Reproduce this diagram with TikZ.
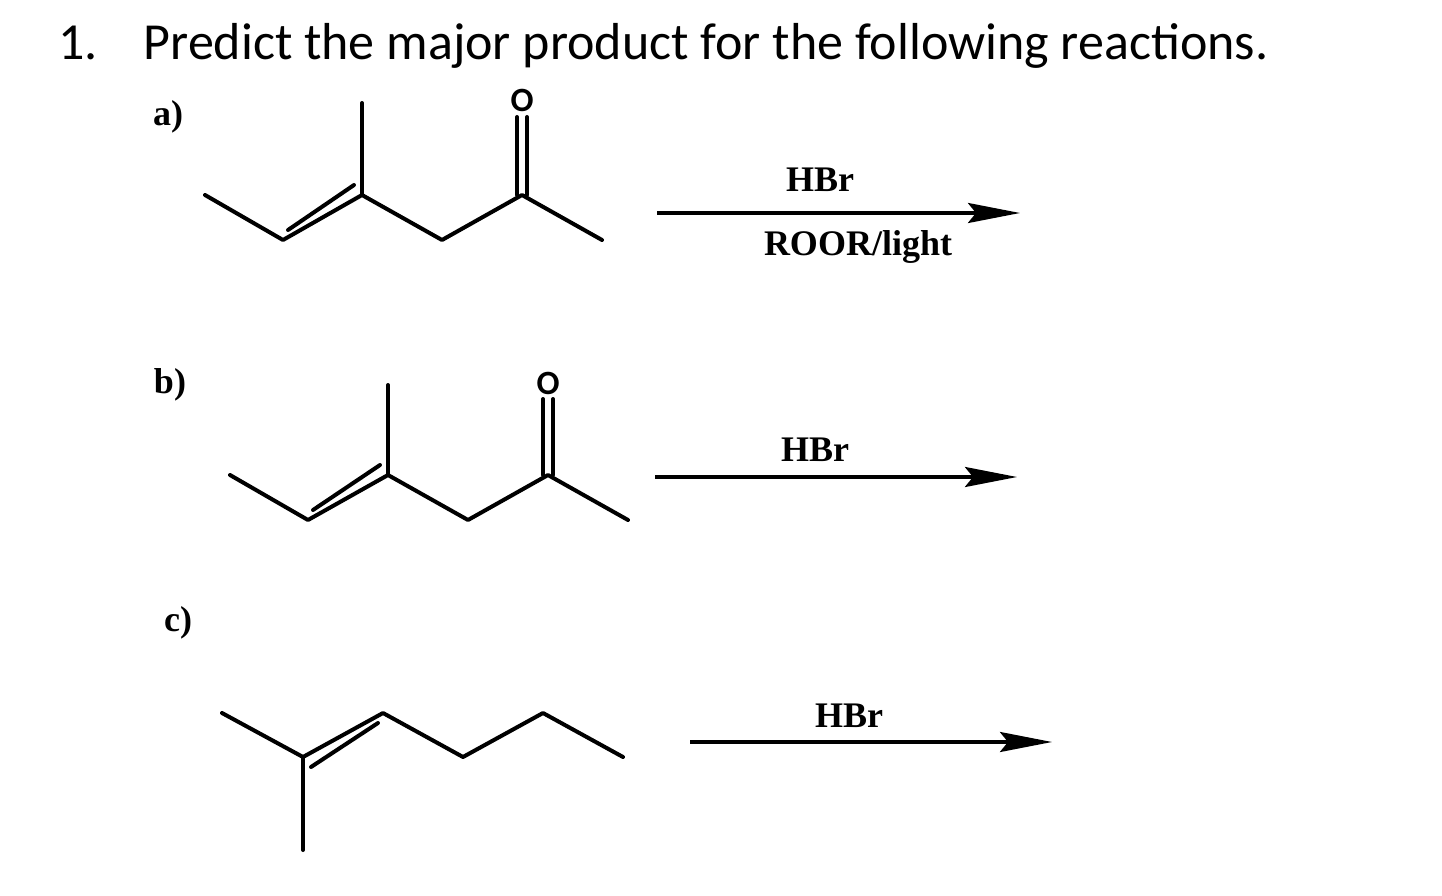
\documentclass[tikz,border=0pt]{standalone}
\usepackage{fontspec}
\setmainfont{Liberation Serif}
\newfontfamily\titlefont{Carlito}
\usetikzlibrary{arrows.meta}
\begin{document}
\begin{tikzpicture}[x=1pt,y=-1pt,
  bond/.style={line width=4pt,line cap=round,line join=round},
  rxn/.style={line width=3.5pt,-{Stealth[length=52pt,width=20pt,inset=8pt]}},
  lab/.style={font=\bfseries\fontsize{36}{40}\selectfont,inner sep=0},
  oxy/.style={font=\titlefont\bfseries\fontsize{34}{36}\selectfont,inner sep=0}]
\useasboundingbox (0,0) rectangle (1442,896);
\node[anchor=base west,font=\titlefont\fontsize{52}{58}\selectfont,inner sep=0] (title) at (58,60) {1.\hspace{46pt}Predict the major product for the following reactions.};
% a
\node[lab] (la) at (168,117) {a)};
\coordinate (a1) at (205,195); \coordinate (a2) at (283,240); \coordinate (a3) at (362,195);
\coordinate (a4) at (362,103); \coordinate (a5) at (442,240); \coordinate (a6) at (522,195);
\coordinate (a7) at (602,240);
\node[oxy] (ao) at (522,100) {O};
\draw[bond] (a1)--(a2)--(a3)--(a5)--(a6)--(a7); \draw[bond] (a3)--(a4);
\draw[bond] ([shift={(5,-10)}]a2)--([shift={(-8,-10)}]a3);
\draw[bond] ([xshift=-5]a6)--([xshift=-5,yshift=78]a6);
\draw[bond] ([xshift=5]a6)--([xshift=5,yshift=78]a6);
\coordinate (as) at (657,213); \coordinate (ae) at (1020,213);
\draw[rxn] (as)--(ae);
\node[lab] (ahbr) at (820,180) {HBr};
\node[lab] (aroor) at (858,247) {ROOR/light};
% b
\node[lab] (lb) at (170,385) {b)};
\coordinate (b1) at (230,475); \coordinate (b2) at (308,520); \coordinate (b3) at (388,475);
\coordinate (b4) at (388,385); \coordinate (b5) at (468,520); \coordinate (b6) at (548,475);
\coordinate (b7) at (628,520);
\node[oxy] (bo) at (548,383) {O};
\draw[bond] (b1)--(b2)--(b3)--(b5)--(b6)--(b7); \draw[bond] (b3)--(b4);
\draw[bond] ([shift={(5,-10)}]b2)--([shift={(-8,-10)}]b3);
\draw[bond] ([xshift=-5]b6)--([xshift=-5,yshift=76]b6);
\draw[bond] ([xshift=5]b6)--([xshift=5,yshift=76]b6);
\coordinate (bs) at (655,477); \coordinate (be) at (1017,477);
\draw[rxn] (bs)--(be);
\node[lab] (bhbr) at (815,450) {HBr};
% c
\node[lab] (lc) at (178,623) {c)};
\coordinate (c1) at (222,713); \coordinate (c2) at (303,757); \coordinate (c3) at (383,713);
\coordinate (c4) at (463,757); \coordinate (c5) at (543,713); \coordinate (c6) at (623,757);
\coordinate (c7) at (303,850);
\draw[bond] (c1)--(c2)--(c3)--(c4)--(c5)--(c6); \draw[bond] (c2)--(c7);
\draw[bond] ([shift={(8,10)}]c2)--([shift={(-5,10)}]c3);
\coordinate (cs) at (690,742); \coordinate (ce) at (1052,742);
\draw[rxn] (cs)--(ce);
\node[lab] (chbr) at (849,716) {HBr};
\end{tikzpicture}
\end{document}
